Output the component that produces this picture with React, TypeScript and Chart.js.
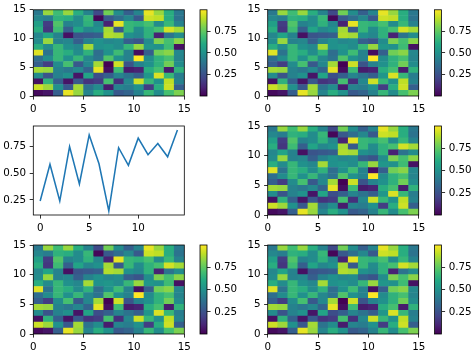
import React, { useEffect, useRef } from 'react';
import { Chart, registerables } from 'chart.js';

Chart.register(...registerables);

// ---------------- data ----------------
// 15x15 grid, row index = y cell (row 0 is the bottom row), column index = x cell
const HEAT_VALUES: number[][] = [
  [0.03, 0.06, 0.30, 0.96, 0.84, 0.45, 0.62, 0.50, 0.28, 0.32, 0.44, 0.66, 0.48, 0.70, 0.80],
  [0.92, 0.85, 0.50, 0.28, 0.86, 0.38, 0.48, 0.08, 0.45, 0.42, 0.50, 0.18, 0.62, 0.92, 0.30],
  [0.05, 0.64, 0.30, 0.06, 0.28, 0.15, 0.18, 0.70, 0.14, 0.46, 0.92, 0.66, 0.50, 0.90, 0.44],
  [0.48, 0.26, 0.44, 0.50, 0.06, 0.58, 0.24, 0.30, 0.45, 0.38, 0.30, 0.52, 0.94, 0.66, 0.42],
  [0.86, 0.84, 0.44, 0.40, 0.46, 0.32, 0.96, 0.04, 0.68, 0.08, 0.10, 0.62, 0.70, 0.08, 0.64],
  [0.30, 0.18, 0.48, 0.70, 0.28, 0.46, 0.86, 0.004, 0.92, 0.26, 0.44, 0.50, 0.64, 0.78, 0.48],
  [0.36, 0.48, 0.66, 0.50, 0.66, 0.46, 0.38, 0.72, 0.50, 0.44, 0.996, 0.48, 0.64, 0.70, 0.45],
  [0.95, 0.38, 0.66, 0.62, 0.48, 0.64, 0.36, 0.50, 0.68, 0.44, 0.04, 0.30, 0.78, 0.82, 0.46],
  [0.62, 0.48, 0.66, 0.50, 0.46, 0.86, 0.50, 0.52, 0.48, 0.66, 0.84, 0.52, 0.50, 0.68, 0.05],
  [0.48, 0.84, 0.44, 0.46, 0.30, 0.44, 0.50, 0.46, 0.48, 0.30, 0.26, 0.48, 0.80, 0.70, 0.82],
  [0.46, 0.58, 0.44, 0.05, 0.26, 0.28, 0.30, 0.88, 0.86, 0.50, 0.46, 0.64, 0.10, 0.38, 0.48],
  [0.62, 0.16, 0.68, 0.30, 0.58, 0.46, 0.50, 0.86, 0.28, 0.66, 0.48, 0.64, 0.70, 0.93, 0.86],
  [0.56, 0.18, 0.72, 0.44, 0.48, 0.64, 0.46, 0.10, 0.96, 0.66, 0.64, 0.70, 0.48, 0.66, 0.44],
  [0.46, 0.42, 0.64, 0.62, 0.48, 0.66, 0.02, 0.28, 0.36, 0.46, 0.28, 0.92, 0.90, 0.62, 0.38],
  [0.40, 0.84, 0.68, 0.84, 0.62, 0.44, 0.22, 0.78, 0.48, 0.30, 0.45, 0.96, 0.84, 0.62, 0.40],
];

const LINE_X = [0, 1, 2, 3, 4, 5, 6, 7, 8, 9, 10, 11, 12, 13, 14];
const LINE_Y = [0.24, 0.585, 0.24, 0.75, 0.40, 0.86, 0.59, 0.147, 0.74, 0.575, 0.83, 0.675, 0.78, 0.655, 0.906];

const HEAT_TICKS = [0, 5, 10, 15];
const LINE_X_TICKS = [0, 5, 10];
const LINE_Y_TICKS = [0.25, 0.5, 0.75];
const CBAR_TICKS = [0.25, 0.5, 0.75];

const HEAT_MIN = Math.min(...HEAT_VALUES.flat());
const HEAT_MAX = Math.max(...HEAT_VALUES.flat());

// ---------------- style / layout ----------------
const FIG_W = 474;
const FIG_H = 355;
const FONT = "'DejaVu Sans', sans-serif";
const FONT_SIZE = 10.3;
const TICK_LEN = 3.6;
const TICK_PAD = 3.6;
const SPINE_W = 0.8;
const LINE_COLOR = '#1f77b4';
const Y_AXIS_W = 33; // box reserved for left tick labels
const R_AXIS_W = 32; // box reserved for right (colorbar) tick labels
const X_AXIS_H = 20; // box reserved for bottom tick labels

const VIRIDIS = [
  '#440154', '#482475', '#414487', '#355f8d', '#2a788e', '#21918c',
  '#22a884', '#44bf70', '#7ad151', '#bddf26', '#fde725',
];

const COL_X: [number, number][] = [[33.3, 184.3], [267.7, 418.7]];
const ROW_Y: [number, number][] = [[7.3, 96], [126, 215], [245, 334]];
const CBAR_X: [number, number][] = [[200, 207], [434.5, 441.5]];

function hexToRgb(h: string): number[] {
  return [1, 3, 5].map((i) => parseInt(h.slice(i, i + 2), 16));
}
const VIRIDIS_RGB = VIRIDIS.map(hexToRgb);

function viridis(t: number): string {
  const tt = Math.max(0, Math.min(1, t)) * (VIRIDIS_RGB.length - 1);
  const i = Math.min(Math.floor(tt), VIRIDIS_RGB.length - 2);
  const f = tt - i;
  const a = VIRIDIS_RGB[i];
  const b = VIRIDIS_RGB[i + 1];
  const c = a.map((v, k) => Math.round(v + (b[k] - v) * f));
  return `rgb(${c[0]},${c[1]},${c[2]})`;
}

function colorFor(v: number): string {
  return viridis((v - HEAT_MIN) / (HEAT_MAX - HEAT_MIN));
}

const framePlugin = {
  id: 'frame',
  afterDraw(chart: any) {
    const { ctx, chartArea: a } = chart;
    ctx.save();
    ctx.strokeStyle = '#000';
    ctx.lineWidth = SPINE_W;
    ctx.strokeRect(a.left, a.top, a.right - a.left, a.bottom - a.top);
    ctx.restore();
  },
};

function axis(position: string, min: number, max: number, ticks: number[], digits: number) {
  const vertical = position === 'left' || position === 'right';
  const size = position === 'left' ? Y_AXIS_W : position === 'right' ? R_AXIS_W : X_AXIS_H;
  return {
    type: 'linear',
    position,
    min,
    max,
    offset: false,
    afterFit: (s: any) => {
      if (vertical) s.width = size;
      else s.height = size;
    },
    afterBuildTicks: (s: any) => {
      s.ticks = ticks.map((value) => ({ value }));
    },
    grid: {
      display: true,
      drawOnChartArea: false,
      drawTicks: true,
      tickLength: TICK_LEN,
      tickWidth: SPINE_W,
      tickColor: '#000',
      color: '#000',
      lineWidth: SPINE_W,
      offset: false,
    },
    border: { display: false },
    ticks: {
      padding: TICK_PAD,
      color: '#000',
      autoSkip: false,
      maxRotation: 0,
      minRotation: 0,
      font: { family: FONT, size: FONT_SIZE },
      callback: (v: any) => Number(v).toFixed(digits),
    },
  };
}

function padFor(x: [number, number], y: [number, number], leftAxis: boolean, rightAxis: boolean, bottomAxis: boolean) {
  return {
    left: x[0] - (leftAxis ? Y_AXIS_W : 0),
    right: FIG_W - x[1] - (rightAxis ? R_AXIS_W : 0),
    top: y[0],
    bottom: FIG_H - y[1] - (bottomAxis ? X_AXIS_H : 0),
  };
}

function heatConfig(x: [number, number], y: [number, number]): any {
  return {
    type: 'bar',
    data: {
      datasets: HEAT_VALUES.map((row, r) => ({
        data: row.map((_v, c) => ({ x: c + 0.5, y: [r, r + 1] })),
        backgroundColor: row.map((v) => colorFor(v)),
        borderWidth: 0,
        grouped: false,
        barPercentage: 1,
        categoryPercentage: 1,
      })),
    },
    options: {
      responsive: false,
      animation: false,
      devicePixelRatio: 1,
      layout: { padding: padFor(x, y, true, false, true) },
      plugins: { legend: { display: false }, tooltip: { enabled: false } },
      scales: {
        x: axis('bottom', 0, 15, HEAT_TICKS, 0),
        y: axis('left', 0, 15, HEAT_TICKS, 0),
      },
    },
    plugins: [framePlugin],
  };
}

function cbarConfig(x: [number, number], y: [number, number]): any {
  return {
    type: 'bar',
    data: {
      labels: ['cbar'],
      datasets: [
        {
          data: [[HEAT_MIN, HEAT_MAX]],
          backgroundColor: (ctx: any) => {
            const chart = ctx.chart;
            const a = chart.chartArea;
            if (!a) return VIRIDIS[5];
            const g = chart.ctx.createLinearGradient(0, a.bottom, 0, a.top);
            VIRIDIS.forEach((c, i) => g.addColorStop(i / (VIRIDIS.length - 1), c));
            return g;
          },
          borderWidth: 0,
          inflateAmount: 0,
          barPercentage: 1,
          categoryPercentage: 1,
        },
      ],
    },
    options: {
      responsive: false,
      animation: false,
      devicePixelRatio: 1,
      layout: { padding: padFor(x, y, false, true, false) },
      plugins: { legend: { display: false }, tooltip: { enabled: false } },
      scales: {
        x: { type: 'category', display: false, offset: true },
        y: axis('right', HEAT_MIN, HEAT_MAX, CBAR_TICKS, 2),
      },
    },
    plugins: [framePlugin],
  };
}

function lineConfig(x: [number, number], y: [number, number]): any {
  return {
    type: 'line',
    data: {
      datasets: [
        {
          data: LINE_X.map((xv, i) => ({ x: xv, y: LINE_Y[i] })),
          borderColor: LINE_COLOR,
          borderWidth: 1.55,
          pointRadius: 0,
          fill: false,
          tension: 0,
        },
      ],
    },
    options: {
      responsive: false,
      animation: false,
      devicePixelRatio: 1,
      layout: { padding: padFor(x, y, true, false, true) },
      plugins: { legend: { display: false }, tooltip: { enabled: false } },
      scales: {
        x: axis('bottom', -0.7, 14.7, LINE_X_TICKS, 0),
        y: axis('left', 0.109, 0.944, LINE_Y_TICKS, 2),
      },
    },
    plugins: [framePlugin],
  };
}

function Panel({ make }: { make: () => any }) {
  const ref = useRef<HTMLCanvasElement | null>(null);
  useEffect(() => {
    if (!ref.current) return;
    const chart = new Chart(ref.current, make());
    return () => chart.destroy();
  }, []);
  return (
    <canvas
      ref={ref}
      width={FIG_W}
      height={FIG_H}
      style={{ position: 'absolute', left: 0, top: 0, width: FIG_W, height: FIG_H }}
    />
  );
}

export default function App() {
  const panels: (() => any)[] = [
    () => heatConfig(COL_X[0], ROW_Y[0]),
    () => cbarConfig(CBAR_X[0], ROW_Y[0]),
    () => heatConfig(COL_X[1], ROW_Y[0]),
    () => cbarConfig(CBAR_X[1], ROW_Y[0]),
    () => lineConfig(COL_X[0], ROW_Y[1]),
    () => heatConfig(COL_X[1], ROW_Y[1]),
    () => cbarConfig(CBAR_X[1], ROW_Y[1]),
    () => heatConfig(COL_X[0], ROW_Y[2]),
    () => cbarConfig(CBAR_X[0], ROW_Y[2]),
    () => heatConfig(COL_X[1], ROW_Y[2]),
    () => cbarConfig(CBAR_X[1], ROW_Y[2]),
  ];
  return (
    <div
      style={{
        position: 'fixed',
        left: 0,
        top: 0,
        width: FIG_W,
        height: FIG_H,
        background: '#fff',
        overflow: 'hidden',
      }}
    >
      {panels.map((m, i) => (
        <Panel key={i} make={m} />
      ))}
    </div>
  );
}
